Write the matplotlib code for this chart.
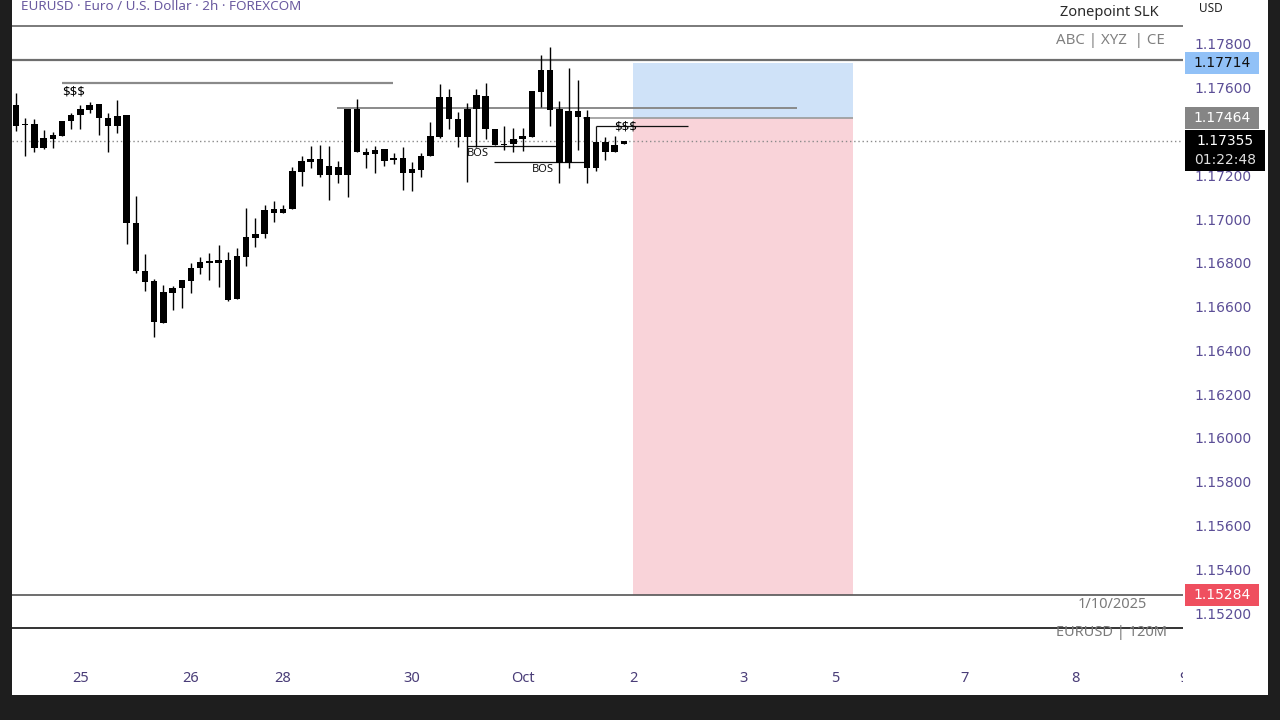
import matplotlib
matplotlib.use("Agg")
import matplotlib.pyplot as plt
from matplotlib.patches import Rectangle

plt.rcParams['font.family'] = ['Noto Sans', 'DejaVu Sans']

# ---------------- data (EURUSD 2h candles) ----------------
opens = [1.17521, 1.17434, 1.17434, 1.17325, 1.17366, 1.17380, 1.17448, 1.17475, 1.17498, 1.17526,
         1.17462, 1.17425, 1.17475, 1.16982, 1.16763, 1.16717, 1.16525, 1.16662, 1.16685, 1.16717,
         1.16776, 1.16804, 1.16799, 1.16813, 1.16635, 1.16827, 1.16913, 1.16932, 1.17028, 1.17028,
         1.17046, 1.17215, 1.17261, 1.17274, 1.17242, 1.17201, 1.17201, 1.17503, 1.17306, 1.17297,
         1.17320, 1.17279, 1.17279, 1.17210, 1.17224, 1.17288, 1.17375, 1.17558, 1.17457, 1.17375,
         1.17503, 1.17562, 1.17411, 1.17343, 1.17343, 1.17366, 1.17375, 1.17581, 1.17681, 1.17503,
         1.17256, 1.17494, 1.17466, 1.17233, 1.17306, 1.17306, 1.17343]
highs = [1.17576, 1.17462, 1.17457, 1.17407, 1.17398, 1.17448, 1.17485, 1.17521, 1.17535, 1.17526,
         1.17485, 1.17544, 1.17475, 1.17105, 1.16840, 1.16726, 1.16699, 1.16694, 1.16721, 1.16799,
         1.16827, 1.16845, 1.16881, 1.16849, 1.16868, 1.17050, 1.17005, 1.17064, 1.17082, 1.17064,
         1.17238, 1.17288, 1.17334, 1.17338, 1.17334, 1.17265, 1.17503, 1.17549, 1.17325, 1.17334,
         1.17320, 1.17302, 1.17329, 1.17261, 1.17302, 1.17443, 1.17617, 1.17594, 1.17489, 1.17530,
         1.17594, 1.17622, 1.17411, 1.17425, 1.17416, 1.17416, 1.17585, 1.17750, 1.17786, 1.17539,
         1.17690, 1.17635, 1.17498, 1.17352, 1.17375, 1.17380, 1.17355]
lows = [1.17402, 1.17288, 1.17306, 1.17320, 1.17325, 1.17380, 1.17411, 1.17411, 1.17485, 1.17384,
        1.17306, 1.17393, 1.16886, 1.16753, 1.16671, 1.16461, 1.16525, 1.16584, 1.16593, 1.16662,
        1.16749, 1.16721, 1.16689, 1.16625, 1.16635, 1.16785, 1.16872, 1.16913, 1.16987, 1.17028,
        1.17046, 1.17151, 1.17233, 1.17192, 1.17087, 1.17165, 1.17101, 1.17306, 1.17233, 1.17210,
        1.17242, 1.17252, 1.17133, 1.17128, 1.17192, 1.17288, 1.17370, 1.17411, 1.17329, 1.17169,
        1.17329, 1.17366, 1.17338, 1.17316, 1.17306, 1.17311, 1.17375, 1.17512, 1.17425, 1.17165,
        1.17233, 1.17316, 1.17165, 1.17220, 1.17270, 1.17306, 1.17343]
closes = [1.17425, 1.17432, 1.17325, 1.17370, 1.17384, 1.17448, 1.17475, 1.17503, 1.17521, 1.17462,
          1.17425, 1.17471, 1.16982, 1.16763, 1.16712, 1.16530, 1.16667, 1.16685, 1.16721, 1.16776,
          1.16804, 1.16806, 1.16813, 1.16630, 1.16831, 1.16918, 1.16932, 1.17041, 1.17046, 1.17046,
          1.17220, 1.17265, 1.17274, 1.17201, 1.17201, 1.17238, 1.17503, 1.17306, 1.17293, 1.17316,
          1.17265, 1.17270, 1.17210, 1.17229, 1.17288, 1.17380, 1.17558, 1.17457, 1.17375, 1.17503,
          1.17567, 1.17411, 1.17338, 1.17338, 1.17366, 1.17380, 1.17585, 1.17681, 1.17498, 1.17256,
          1.17494, 1.17466, 1.17233, 1.17352, 1.17352, 1.17338, 1.17355]

date_labels = ["25", "26", "28", "30", "Oct", "2", "3", "5", "7", "8", "9"]
date_bars = [7, 19, 29, 43, 55, 67, 79, 89, 103, 115, 126.8]
# 1.17400 is hidden behind the price badges in the reference
price_ticks = [1.152, 1.154, 1.156, 1.158, 1.160, 1.162, 1.164, 1.166,
               1.168, 1.170, 1.172, 1.176, 1.178]

# drawing-tool levels
header_level = 1.17882
top_level = 1.17727
stop_level = 1.17714
liq1_level = 1.17622
mid_level = 1.17508
entry_level = 1.17464
liq2_level = 1.17425
last_price = 1.17355
bos1_level = 1.17334
bos2_level = 1.17261
target_level = 1.15284
bottom_level = 1.15132

liq1_span = (5.0, 40.9)
mid_span = (34.85, 84.8)
entry_span = (61.6, 90.9)
liq2_span = (63.0, 73.0)
bos1_span = (49.0, 58.7)
bos2_span = (51.9, 61.8)
zone_span = (67.0, 90.9)

# ---------------- figure ----------------
W, H = 1280, 720
fig = plt.figure(figsize=(12.8, 7.2), dpi=100, facecolor='#1e1e1e')
fig.patches.append(Rectangle((12 / W, 1 - 695 / H), (1268 - 12) / W, 695 / H,
                             transform=fig.transFigure, facecolor='white',
                             edgecolor='none', zorder=-5))

ax = fig.add_axes([12 / W, 1 - 695 / H, 1171 / W, 695 / H])
ax.set_facecolor('none')
for s in ax.spines.values():
    s.set_visible(False)

y_top, y_bot = 1.1800105, 1.1482536
ax.set_ylim(y_bot, y_top)
ax.set_xlim(-0.434, 126.71)
k = (y_top - y_bot) / 695.0   # price per pixel

# zones
ax.add_patch(Rectangle((zone_span[0], entry_level), zone_span[1] - zone_span[0],
                       stop_level - entry_level, facecolor='#cfe2f8', edgecolor='none', zorder=1))
ax.add_patch(Rectangle((zone_span[0], target_level), zone_span[1] - zone_span[0],
                       entry_level - target_level, facecolor='#f9d3d9', edgecolor='none', zorder=1))

# full-width lines
ax.axhline(header_level, color='#7a7a7a', lw=1.4, zorder=2)
ax.axhline(top_level, color='#6e6e6e', lw=1.6, zorder=2)
ax.axhline(target_level, color='#555555', lw=1.2, zorder=2)
ax.axhline(bottom_level, color='#111111', lw=1.2, zorder=2)
ax.axhline(last_price, color='#8a8a8a', lw=1.0, ls=(0, (1, 2)), zorder=2)

# partial lines
ax.hlines(liq1_level, *liq1_span, color='#8a8a8a', lw=1.6, zorder=2)
ax.hlines(mid_level, *mid_span, color='#8a8a8a', lw=1.4, zorder=2)
ax.hlines(entry_level, *entry_span, color='#9a9a9a', lw=1.2, zorder=2)
ax.hlines(liq2_level, *liq2_span, color='#111111', lw=0.9, zorder=4)
ax.vlines(liq2_span[0], highs[63], liq2_level, color='#111111', lw=0.9, zorder=4)
ax.hlines(bos1_level, *bos1_span, color='#111111', lw=0.9, zorder=4)
ax.hlines(bos2_level, *bos2_span, color='#111111', lw=0.9, zorder=4)

# candles
min_body = 1.6 * k
for i, (o, h, l, c) in enumerate(zip(opens, highs, lows, closes)):
    ax.vlines(i, l, h, color='#000000', lw=1.0, zorder=5)
    lo, hi = min(o, c), max(o, c)
    hgt = max(hi - lo, min_body)
    ax.bar(i, hgt, bottom=(lo + hi) / 2 - hgt / 2, width=0.7, color='#000000',
           edgecolor='none', zorder=6)

# annotations
ax.text(6.3, liq1_level - 3 * k, "$$$", ha='center', va='top', fontsize=9.5,
        color='#000000', zorder=7, weight='semibold')
ax.text(66.2, liq2_level - 1 * k, "$$$", ha='center', va='center', fontsize=9.5,
        color='#000000', zorder=7, weight='semibold')
ax.text(bos1_span[0], bos1_level - 8 * k, "BOS", ha='left', va='center', fontsize=8,
        color='#111111', zorder=7)
ax.text(56.0, bos2_level - 8 * k, "BOS", ha='left', va='center', fontsize=8,
        color='#111111', zorder=7)

# price axis
ax.yaxis.tick_right()
ax.set_yticks(price_ticks)
ax.set_yticklabels([f"{t:.5f}" for t in price_ticks], family='DejaVu Sans')
ax.tick_params(axis='y', length=0, pad=8.5, labelsize=10, labelcolor='#5b4e96')
ax.set_xticks([])

# time axis labels
for b, lab in zip(date_bars, date_labels):
    ax.text(b, (695 - 679) / 695, lab, transform=ax.get_xaxis_transform(),
            ha='center', va='center', fontsize=10.5, color='#4a3d78', clip_on=True)

# price badges
ytr = ax.get_yaxis_transform()


def ax_x(px):
    return (px - 12) / 1171


def badge(price, label, bg, fg, x0=1185, x1=1259, hpx=22):
    ax.add_patch(Rectangle((ax_x(x0), price - hpx / 2 * k), ax_x(x1) - ax_x(x0), hpx * k,
                           transform=ytr, facecolor=bg, edgecolor='none',
                           clip_on=False, zorder=20))
    ax.text(ax_x((x0 + x1) / 2), price, label, transform=ytr, ha='center', va='center',
            fontsize=10, color=fg, clip_on=False, zorder=21, family='DejaVu Sans')


badge(stop_level, f"{stop_level:.5f}", '#91c1f7', '#101010')
badge(entry_level, f"{entry_level:.5f}", '#858585', '#ffffff')
badge(target_level, f"{target_level:.5f}", '#ef4f5f', '#ffffff')

# last price badge (two lines)
ax.add_patch(Rectangle((ax_x(1185), last_price - 30 * k), ax_x(1265) - ax_x(1185), 41 * k,
                       transform=ytr, facecolor='#000000', edgecolor='none',
                       clip_on=False, zorder=20))
ax.text(ax_x(1225), last_price, f"{last_price:.5f}", transform=ytr, ha='center',
        va='center', fontsize=10, color='#ffffff', clip_on=False, zorder=21,
        family='DejaVu Sans')
ax.text(ax_x(1225), last_price - 19 * k, "01:22:48", transform=ytr, ha='center',
        va='center', fontsize=10, color='#e0e0e0', clip_on=False, zorder=21,
        family='DejaVu Sans')


# header texts (figure pixel positions)
def ft(x, y, s, **kw):
    fig.text(x / W, 1 - y / H, s, **kw)


ft(21, 7, "EURUSD · Euro / U.S. Dollar · 2h · FOREXCOM", ha='left', va='center',
   fontsize=9.7, color='#6a5aa0')
ft(1109, 13, "Zonepoint SLK", ha='center', va='center', fontsize=10.5, color='#2a2a2a')
ft(1110, 41, "ABC | XYZ  | CE", ha='center', va='center', fontsize=10.8, color='#808080')
ft(1112, 605, "1/10/2025", ha='center', va='center', fontsize=10.5, color='#7a7a7a')
ft(1111, 632, "EURUSD | 120M", ha='center', va='center', fontsize=10.5, color='#7a7a7a')
ft(1211, 8, "USD", ha='center', va='center', fontsize=8.5, color='#222222')

fig.savefig("out.png", dpi=100, facecolor=fig.get_facecolor())
